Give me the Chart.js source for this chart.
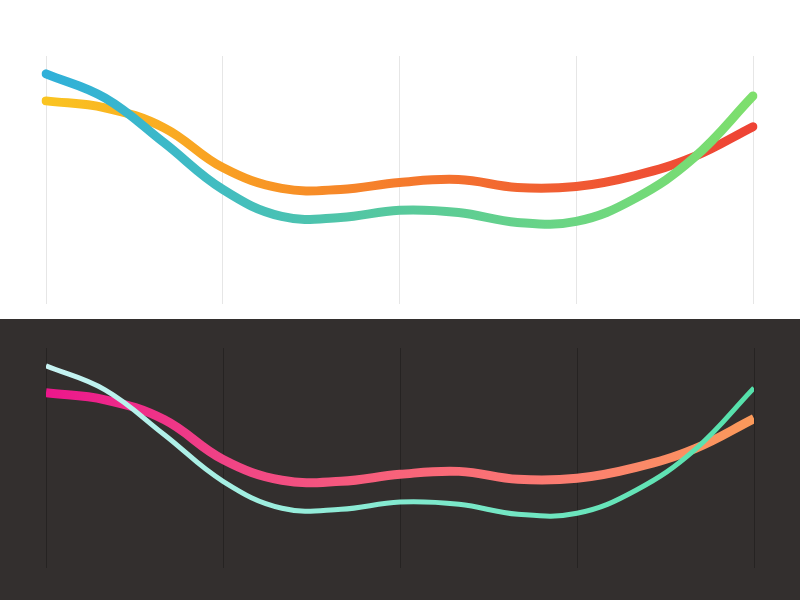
<!DOCTYPE html>
<html>
<head>
<meta charset="utf-8">
<script src="https://cdn.jsdelivr.net/npm/chart.js@4/dist/chart.umd.min.js"></script>
<style>
  html, body { margin: 0; padding: 0; width: 800px; height: 600px; overflow: hidden; background: #fff; }
  #top-wrap { position: absolute; left: 0; top: 0; width: 800px; height: 319px; background: #fff; }
  #bottom-wrap { position: absolute; left: 0; top: 319px; width: 800px; height: 281px; background: #332f2e; }
</style>
</head>
<body>
<div id="top-wrap"><canvas id="chart-light"></canvas></div>
<div id="bottom-wrap"><canvas id="chart-dark"></canvas></div>
<script>
// 13 points, a grid line every 3rd one
const labels = ["1", "2", "3", "4", "5", "6", "7", "8", "9", "10", "11", "12", "13"];

// first series (blue -> green / light cyan -> mint)
const seriesA = [92.8, 83.1, 65.1, 46.2, 35.3, 34.9, 37.8, 36.9, 32.9, 33.3, 42.6, 59.0, 83.9];
// second series (yellow -> red / magenta -> orange)
const seriesB = [81.9, 79.1, 71.1, 55.0, 46.6, 46.2, 49.0, 50.2, 47.0, 47.4, 51.8, 59.4, 71.5];

const lightColorsA = ["#30b0d9", "#42bdc0", "#57c99c", "#6cd682", "#7edf6c"];
const lightColorsB = ["#fac421", "#f9a023", "#f57b2c", "#f05a33", "#ee4335"];
const darkColorsA = ["#c8f3f3", "#a6efe4", "#82e9cf", "#6be5bd", "#55e0aa"];
const darkColorsB = ["#ec168c", "#f04386", "#f8637a", "#fb7f70", "#fb9a5a"];

function gradientFor(stops) {
    return function (ctx) {
        const chart = ctx.chart;
        const area = chart.chartArea;
        if (!area) return stops[0];
        const g = chart.ctx.createLinearGradient(area.left, 0, area.right, 0);
        stops.forEach((c, i) => g.addColorStop(i / (stops.length - 1), c));
        return g;
    };
}

function makeChart(id, opts) {
    const el = document.getElementById(id);
    return new Chart(el.getContext("2d"), {
        type: "line",
        data: {
            labels: labels,
            datasets: [
                {
                    data: seriesA,
                    borderColor: gradientFor(opts.colorsA),
                    borderWidth: opts.widthA,
                    borderCapStyle: opts.cap,
                    pointRadius: 0,
                    tension: 0.4,
                    fill: false,
                    clip: opts.clip
                },
                {
                    data: seriesB,
                    borderColor: gradientFor(opts.colorsB),
                    borderWidth: opts.widthB,
                    borderCapStyle: opts.cap,
                    pointRadius: 0,
                    tension: 0.4,
                    fill: false,
                    clip: opts.clip
                }
            ]
        },
        options: {
            responsive: true,
            maintainAspectRatio: false,
            animation: false,
            devicePixelRatio: 1,
            layout: { padding: opts.padding },
            plugins: {
                legend: { display: false },
                tooltip: { enabled: false }
            },
            scales: {
                x: {
                    ticks: { display: false, autoSkip: false },
                    border: { display: false },
                    grid: {
                        drawTicks: false,
                        lineWidth: 1,
                        color: c => (c.index % 3 === 0 ? opts.gridColor : "rgba(0,0,0,0)")
                    }
                },
                y: {
                    display: false,
                    min: opts.yMin,
                    max: 100
                }
            }
        }
    });
}

makeChart("chart-light", {
    colorsA: lightColorsA,
    colorsB: lightColorsB,
    widthA: 9,
    widthB: 9,
    cap: "round",
    clip: undefined,
    gridColor: "#e6e6e6",
    yMin: 0,
    padding: { left: 46, right: 47, top: 56, bottom: 15 }
});

makeChart("chart-dark", {
    colorsA: darkColorsA,
    colorsB: darkColorsB,
    widthA: 5,
    widthB: 9,
    cap: "butt",
    clip: 0,
    gridColor: "#262322",
    yMin: 11.2,
    padding: { left: 46, right: 46, top: 29, bottom: 32 }
});
</script>
</body>
</html>
